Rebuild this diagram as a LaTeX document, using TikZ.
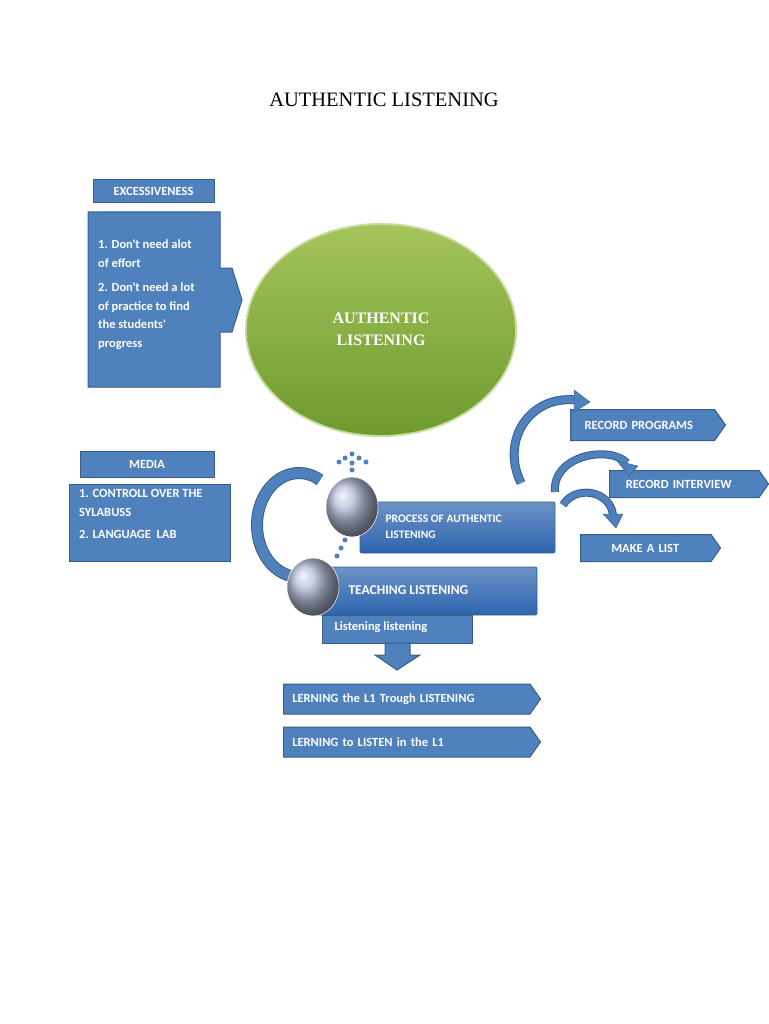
\documentclass[tikz,border=0pt]{standalone}
\usepackage{fontspec}
\setmainfont{Liberation Serif}
\newfontfamily\calfont{Carlito}
\usetikzlibrary{shapes.arrows,shapes.symbols,shapes.geometric,arrows.meta}
\definecolor{bl}{HTML}{4F81BD}
\definecolor{bd}{HTML}{385D8A}
\definecolor{dk}{HTML}{2E64AE}
\definecolor{gtop}{HTML}{A4C45C}
\definecolor{gbot}{HTML}{6E9A2E}
\definecolor{orbc}{HTML}{B4BDD6}
\tikzset{
 bx/.style={draw=bd,line width=1pt,fill=bl,text=white,font=\calfont\bfseries\fontsize{12.5}{15}\selectfont},
 pent/.style={bx,signal,signal to=east,signal pointer angle=110,inner sep=0pt,anchor=west},
 dkbox/.style={draw=bd,line width=0.8pt,top color=dk!70!white,bottom color=dk,text=white,rounded corners=2pt},
 orb/.style={ellipse,draw=white,line width=0.5pt,inner sep=0pt,ball color=orbc,shading=ball},
 dot/.style={circle,fill=bl,inner sep=0pt,minimum size=5pt}
}
\begin{document}
\begin{tikzpicture}[x=1pt,y=-1pt]
\useasboundingbox (0,0) rectangle (768,1024);
\node (title) at (384,100) {\fontsize{20.5}{24}\selectfont AUTHENTIC LISTENING};
% ellipse
\fill[gtop!60!white] (381,330) ellipse [x radius=136,y radius=107];
\shade[top color=gtop,bottom color=gbot] (381,330) ellipse [x radius=134,y radius=105];
\node (main) at (381,329) [text=white,align=center,font=\bfseries\fontsize{16}{22}\selectfont] {AUTHENTIC\\LISTENING};
% excessiveness
\node[bx,minimum width=121pt,minimum height=23pt] (exc) at (153.5,191.5) {EXCESSIVENESS};
\draw[bx] (88,212) -- (220,212) -- (220,268) -- (232,268) -- (242,300) -- (232,332) -- (220,332) -- (220,387) -- (88,387) -- cycle;
\node[text=white,font=\calfont\bfseries\fontsize{12.5}{18.5}\selectfont,align=left,anchor=north west,inner sep=0pt] (exct) at (98,240) {1. Don't need alot\\of effort\\[6pt]2. Don't need a lot\\of practice to find\\the students'\\progress};
% media
\node[bx,minimum width=134pt,minimum height=26pt] (media) at (147,464) {MEDIA};
\node[bx,minimum width=161pt,minimum height=77pt] (mlist) at (149.5,522.5) {};
\node[text=white,font=\calfont\bfseries\fontsize{12.5}{19}\selectfont,align=left,anchor=north west,inner sep=0pt] (mt) at (79,489) {1. CONTROLL OVER THE\\SYLABUSS\\[3pt]2. LANGUAGE\ \ LAB};
% left C band
\draw[bd,line width=12pt] (320,480) arc[start angle=-60,end angle=-262,x radius=42,y radius=52];
\draw[bl,line width=10pt] (320,480) arc[start angle=-60,end angle=-262,x radius=42,y radius=52];
% dots
\foreach \p in {(352,454),(345,458),(359,458),(352,463),(339,462),(366,462),(352,470)} \node[dot] at \p {};
\foreach \p in {(345,540),(341,548),(337,556)} \node[dot] at \p {};
% process
\node[dkbox,minimum width=195pt,minimum height=51pt] (proc) at (457.5,527.5) {};
\node[text=white,font=\calfont\bfseries\fontsize{11.5}{16}\selectfont,align=left,anchor=west] (proct) at (382,527) {PROCESS OF AUTHENTIC\\LISTENING};
\node[orb,minimum width=52pt,minimum height=60pt] (c1) at (352,507) {};
% teaching
\node[bx,minimum width=150pt,minimum height=28pt] (ll) at (397,629) {};
\node[text=white,font=\calfont\bfseries\fontsize{12.5}{15}\selectfont,anchor=west] (llt) at (331,627) {Listening listening};
\node[dkbox,minimum width=227pt,minimum height=48pt] (teach) at (423.5,591) {};
\node[text=white,font=\calfont\bfseries\fontsize{13.5}{15}\selectfont,anchor=west] (teacht) at (345,590) {TEACHING LISTENING};
\node[orb,minimum width=52pt,minimum height=58pt] (c2) at (313,587) {};
\draw[bx] (385,643) -- (410,643) -- (410,655) -- (420,655) -- (397,670) -- (375,655) -- (385,655) -- cycle;
% lerning
\node[pent,minimum width=257pt,minimum height=30pt,text width=245pt] (l1) at (283,699) {\hspace{8pt}LERNING the L1 Trough LISTENING};
\node[pent,minimum width=257pt,minimum height=30pt,text width=245pt] (l2) at (283,742) {\hspace{8pt}LERNING to LISTEN in the L1};
% right
\node[pent,minimum width=155pt,minimum height=31pt,text width=140pt] (rp) at (570,425) {\hspace{12pt}RECORD PROGRAMS};
\node[pent,minimum width=159pt,minimum height=27pt,text width=145pt] (ri) at (609,484) {\hspace{14pt}RECORD INTERVIEW};
\node[pent,minimum width=140pt,minimum height=27pt,text width=125pt] (ml) at (580,548) {\hspace{28pt}MAKE A LIST};
% curved arrows right
\draw[bd,line width=9pt] (521,483) .. controls (500,440) and (530,395) .. (576,400);
\draw[bl,line width=7pt] (521,483) .. controls (500,440) and (530,395) .. (576,400);
\fill[bl,draw=bd] (574,390) -- (590,402) -- (574,412) -- cycle;
\draw[bd,line width=8pt] (555,492) .. controls (552,455) and (610,445) .. (627,463);
\draw[bl,line width=6pt] (555,492) .. controls (552,455) and (610,445) .. (627,463);
\fill[bl,draw=bd] (617,461) -- (638,466) -- (629,476) -- cycle;
\draw[bd,line width=8pt] (563,505) .. controls (575,485) and (610,490) .. (613,515);
\draw[bl,line width=6pt] (563,505) .. controls (575,485) and (610,490) .. (613,515);
\fill[bl,draw=bd] (603,514) -- (623,514) -- (616,528) -- cycle;
\end{tikzpicture}
\end{document}
